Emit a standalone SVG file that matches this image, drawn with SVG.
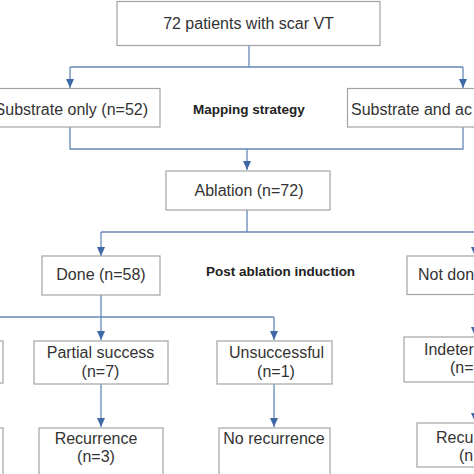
<svg xmlns="http://www.w3.org/2000/svg" width="474" height="474" viewBox="0 0 474 474">
<style>
.box{fill:#fff;stroke:#a3a3a3;stroke-width:1.2}
.t{font-family:"Liberation Sans",Arial,sans-serif;font-size:16px;fill:#333;text-anchor:middle}
.b{font-family:"Liberation Sans",Arial,sans-serif;font-size:13.5px;font-weight:bold;fill:#222;text-anchor:middle}
.s{text-anchor:start}
.e{text-anchor:end}
.c{fill:none;stroke:#6688b8;stroke-width:1.3}
.a{fill:none;stroke:#6688b8;stroke-width:1.3;marker-end:url(#arr)}
</style>
<defs>
<marker id="arr" markerUnits="userSpaceOnUse" markerWidth="9" markerHeight="8" viewBox="0 0 9 8" refX="9" refY="4" orient="auto">
<path d="M0,0 L9,4 L0,8 Z" fill="#3e68a6"/>
</marker>
</defs>
<rect width="474" height="474" fill="#fff"/>
<g id="connectors">
<path class="c" d="M249,45 V67 M70,67 H463"/>
<path class="a" d="M70,67 V88"/>
<path class="a" d="M463,67 V88"/>
<path class="c" d="M70,127 V149 H463 V127"/>
<path class="a" d="M247,149 V170"/>
<path class="c" d="M247,210 V232 M101,232 H478"/>
<path class="a" d="M101,232 V256"/>
<path class="a" d="M475,232 V256"/>
<path class="c" d="M101,295 V317 M-5,317 H274"/>
<path class="a" d="M101,317 V340"/>
<path class="a" d="M274,317 V340"/>
<path class="a" d="M475,295 V336"/>
<path class="a" d="M101,384 V427"/>
<path class="a" d="M274,384 V427"/>
<path class="a" d="M475,382 V422"/>
</g>
<g id="n-root"><rect class="box" x="117" y="1.5" width="263" height="44"/><text class="t" x="248.5" y="29">72 patients with scar VT</text></g>
<g id="n-substrate-only"><rect class="box" x="-5" y="88.5" width="165" height="38.5"/><text class="t e" x="148" y="115">Substrate only (n=52)</text></g>
<g id="l-mapping"><text class="b" x="249" y="114">Mapping strategy</text></g>
<g id="n-substrate-and"><rect class="box" x="347.5" y="88.5" width="200" height="38.5"/><text class="t s" x="351" y="115">Substrate and ac</text></g>
<g id="n-ablation"><rect class="box" x="166" y="171" width="164" height="39"/><text class="t" x="249" y="196">Ablation (n=72)</text></g>
<g id="n-done"><rect class="box" x="42" y="256" width="118" height="39"/><text class="t" x="101" y="280">Done (n=58)</text></g>
<g id="l-post"><text class="b" x="280.5" y="276">Post ablation induction</text></g>
<g id="n-notdone"><rect class="box" x="407" y="256" width="100" height="38.5"/><text class="t s" x="418" y="280">Not don</text></g>
<g id="n-left1"><rect class="box" x="-50" y="341" width="53" height="42"/></g>
<g id="n-partial"><rect class="box" x="34" y="341" width="134" height="43"/><text class="t" x="100.5" y="358">Partial success</text><text class="t" x="100.5" y="377">(n=7)</text></g>
<g id="n-unsuccessful"><rect class="box" x="217" y="341" width="115" height="43"/><text class="t" x="276.5" y="358">Unsuccessful</text><text class="t" x="276" y="377">(n=1)</text></g>
<g id="n-indeterminate"><rect class="box" x="404" y="337" width="100" height="45"/><text class="t s" x="424" y="355">Indeter</text><text class="t s" x="450" y="373">(n=</text></g>
<g id="n-left2"><rect class="box" x="-50" y="428" width="53" height="50"/></g>
<g id="n-recurrence"><rect class="box" x="39" y="428" width="124" height="50"/><text class="t" x="96" y="444">Recurrence</text><text class="t" x="96" y="462">(n=3)</text></g>
<g id="n-norecurrence"><rect class="box" x="219" y="428" width="111" height="50"/><text class="t" x="274" y="444">No recurrence</text></g>
<g id="n-recurrence-r"><rect class="box" x="417" y="423" width="100" height="44"/><text class="t s" x="436" y="443">Recu</text><text class="t s" x="459" y="461">(n</text></g>
</svg>
